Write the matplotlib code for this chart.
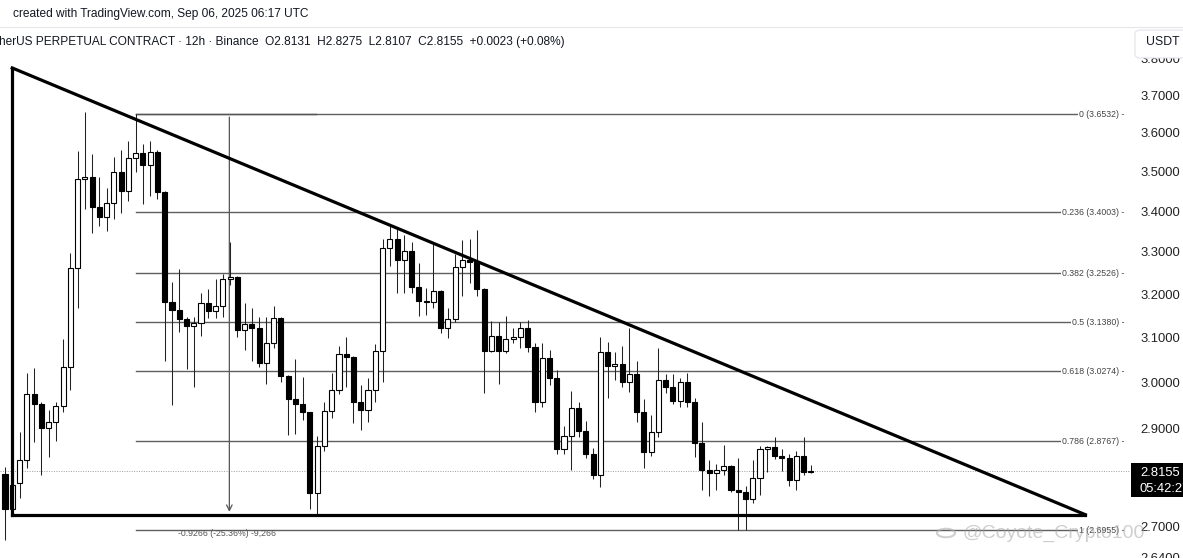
import numpy as np
import matplotlib
matplotlib.use('Agg')
import matplotlib.pyplot as plt
import matplotlib.transforms as mtransforms
from matplotlib.patches import Rectangle, FancyBboxPatch, Circle

plt.rcParams['font.family'] = ['Liberation Sans', 'DejaVu Sans']

# ─── CANDLE DATA (12h) ──────────────────────────────────────────────────────
opens = [
    2.808, 2.738, 2.790, 2.838, 2.977, 2.957, 2.904, 2.918, 2.951, 3.038,
    3.264, 3.485, 3.490, 3.413, 3.390, 3.423, 3.503, 3.454, 3.538, 3.551,
    3.520, 3.553, 3.451, 3.184, 3.166, 3.145, 3.130, 3.137, 3.183, 3.163,
    3.175, 3.238, 3.243, 3.120, 3.135, 3.125, 3.047, 3.091, 3.148, 3.018,
    2.966, 2.957, 2.938, 2.770, 2.866, 2.942, 2.987, 3.066, 3.060, 2.960,
    2.944, 2.987, 3.073, 3.313, 3.335, 3.284, 3.306, 3.220, 3.188, 3.184,
    3.211, 3.125, 3.145, 3.267, 3.284, 3.279, 3.216, 3.073, 3.107, 3.073,
    3.100, 3.105, 3.125, 3.082, 2.960, 3.057, 3.013, 2.860, 2.888, 2.948,
    2.898, 2.850, 2.806, 3.070, 3.040, 3.045, 3.004, 3.022, 2.938, 2.855,
    2.896, 3.009, 2.994, 2.962, 3.004, 2.960, 2.873, 2.818, 2.810, 2.818,
    2.826, 2.777, 2.773, 2.758, 2.800, 2.860, 2.864, 2.845, 2.841, 2.796,
    2.845, 2.8131,
]
highs = [
    2.823, 2.790, 2.896, 3.024, 3.036, 2.960, 2.944, 2.960, 3.100, 3.300,
    3.556, 3.660, 3.550, 3.490, 3.461, 3.540, 3.558, 3.582, 3.653, 3.575,
    3.582, 3.560, 3.455, 3.233, 3.262, 3.150, 3.150, 3.207, 3.216, 3.238,
    3.250, 3.327, 3.245, 3.183, 3.170, 3.150, 3.150, 3.175, 3.150, 3.020,
    3.055, 3.015, 2.940, 2.888, 2.960, 3.024, 3.084, 3.105, 3.062, 2.998,
    3.013, 3.089, 3.335, 3.370, 3.365, 3.345, 3.327, 3.277, 3.218, 3.322,
    3.213, 3.172, 3.298, 3.332, 3.335, 3.356, 3.218, 3.140, 3.138, 3.152,
    3.125, 3.138, 3.143, 3.090, 3.090, 3.075, 3.030, 2.909, 2.985, 2.960,
    2.919, 2.863, 3.105, 3.093, 3.070, 3.084, 3.125, 3.050, 2.968, 2.932,
    3.080, 3.022, 3.022, 3.013, 3.024, 2.970, 2.917, 2.837, 2.830, 2.869,
    2.828, 2.841, 2.785, 2.837, 2.866, 2.866, 2.886, 2.860, 2.850, 2.856,
    2.886, 2.8275,
]
lows = [
    2.676, 2.736, 2.760, 2.822, 2.876, 2.806, 2.843, 2.878, 2.940, 2.987,
    3.171, 3.408, 3.349, 3.366, 3.354, 3.383, 3.400, 3.428, 3.503, 3.421,
    3.441, 3.433, 3.050, 2.953, 3.116, 3.033, 2.994, 3.107, 3.147, 3.147,
    3.150, 3.225, 3.105, 3.075, 3.050, 3.038, 3.000, 3.080, 3.004, 2.890,
    2.892, 2.922, 2.738, 2.7266, 2.857, 2.927, 2.977, 2.994, 2.915, 2.900,
    2.918, 2.960, 3.004, 3.270, 3.207, 3.207, 3.207, 3.152, 3.156, 3.172,
    3.113, 3.103, 3.138, 3.200, 3.230, 3.198, 2.980, 3.070, 3.000, 3.068,
    3.090, 3.080, 3.070, 2.938, 2.950, 2.998, 2.850, 2.850, 2.817, 2.886,
    2.842, 2.798, 2.783, 2.970, 3.008, 2.994, 2.983, 2.917, 2.822, 2.845,
    2.885, 2.980, 2.957, 2.950, 2.950, 2.844, 2.777, 2.765, 2.777, 2.806,
    2.773, 2.696, 2.6955, 2.750, 2.767, 2.812, 2.840, 2.814, 2.784, 2.777,
    2.806, 2.8107,
]
closes = [
    2.738, 2.787, 2.838, 2.977, 2.957, 2.904, 2.918, 2.951, 3.038, 3.264,
    3.485, 3.490, 3.413, 3.390, 3.423, 3.503, 3.454, 3.538, 3.551, 3.520,
    3.553, 3.451, 3.184, 3.166, 3.145, 3.130, 3.137, 3.183, 3.163, 3.175,
    3.238, 3.243, 3.120, 3.135, 3.125, 3.047, 3.091, 3.148, 3.018, 2.966,
    2.957, 2.938, 2.770, 2.866, 2.942, 2.987, 3.066, 3.060, 2.960, 2.944,
    2.987, 3.073, 3.313, 3.335, 3.284, 3.306, 3.220, 3.188, 3.184, 3.211,
    3.125, 3.145, 3.267, 3.284, 3.279, 3.216, 3.073, 3.107, 3.073, 3.100,
    3.105, 3.125, 3.082, 2.960, 3.057, 3.013, 2.860, 2.888, 2.948, 2.898,
    2.850, 2.806, 3.070, 3.040, 3.045, 3.004, 3.022, 2.938, 2.855, 2.896,
    3.009, 2.994, 2.962, 3.004, 2.960, 2.873, 2.818, 2.810, 2.818, 2.826,
    2.777, 2.773, 2.758, 2.800, 2.860, 2.864, 2.845, 2.841, 2.796, 2.845,
    2.8131, 2.8155,
]

# Fibonacci retracement levels (log)
fib_levels = ['0', '0.236', '0.382', '0.5', '0.618', '0.786', '1']
fib_prices = [3.6532, 3.4003, 3.2526, 3.1380, 3.0274, 2.8767, 2.6955]

price_ticks = [3.8, 3.7, 3.6, 3.5, 3.4, 3.3, 3.2, 3.1, 3.0, 2.9, 2.7, 2.64]
last_price = 2.8155

# drawings (bar index / price)
tri_left, tri_right = 1, 148.8
tri_top, tri_bottom = 3.779, 2.7266
fib_start, fib_end = 18, 148.1
meas_start, meas_end, meas_x = 18, 42.8, 30.9
meas_hi, meas_lo = 3.6532, 2.7266

# ─── FIGURE ─────────────────────────────────────────────────────────────────
W, H = 1183, 558
fig = plt.figure(figsize=(W / 100, H / 100), dpi=100)
fig.patch.set_facecolor('white')

def fx(px):
    return px / W

def fy(py):
    return 1 - py / H

ax = fig.add_axes([0, 0, fx(1130), 1 - 28 / H])
ax.set_yscale('log')
ax.set_ylim(2.6416, 3.891)
ax.set_xlim(-0.69, 154.96)
ax.set_xticks([])
ax.set_yticks([])
ax.minorticks_off()
for s in ax.spines.values():
    s.set_visible(False)

x = np.arange(len(opens))
o = np.array(opens)
c = np.array(closes)
up = c >= o

# wicks
ax.vlines(x, lows, highs, color='#222222', lw=0.75, zorder=3)
# bodies
bot = np.minimum(o, c)
hgt = np.maximum(np.abs(c - o), 0.0008)
ax.bar(x[up], hgt[up], bottom=bot[up], width=0.7, color='white',
       edgecolor='black', lw=0.8, zorder=4)
ax.bar(x[~up], hgt[~up], bottom=bot[~up], width=0.7, color='black',
       edgecolor='black', lw=0.8, zorder=4)

# current price dotted line
ax.axhline(last_price, color='#9e9e9e', lw=0.7, ls=(0, (1, 1.5)), zorder=2)

# fib retracement lines
for lvl, p in zip(fib_levels, fib_prices):
    ax.plot([fib_start, fib_end], [p, p], color='#5f5f5f', lw=1.0, zorder=2)
    ax.text(1124 / 1130, p, f'{lvl} ({p:.4f}) -', transform=ax.get_yaxis_transform(),
            ha='right', va='center', fontsize=6.3, color='#444444', zorder=6,
            bbox=dict(boxstyle='square,pad=0.1', fc='white', ec='none'))

# price range measurement
ax.plot([meas_start, meas_end], [meas_hi, meas_hi], color='#555555', lw=1.0, zorder=2)
ax.annotate('', xy=(meas_x, meas_lo), xytext=(meas_x, meas_hi),
            arrowprops=dict(arrowstyle='->', color='#555555', lw=0.9,
                            mutation_scale=10), zorder=2)
ax.text(meas_x - 0.3, 2.690, '-0.9266 (-25.36%) -9,266', ha='center', va='center',
        fontsize=6.3, color='#555555', zorder=6)

# descending triangle
ax.plot([tri_left, tri_left], [tri_bottom, tri_top], color='black', lw=2.3, zorder=5)
ax.plot([tri_left, tri_right], [tri_top, tri_bottom], color='black', lw=2.3, zorder=5)
ax.plot([tri_left, tri_right], [tri_bottom, tri_bottom], color='black', lw=2.3, zorder=5)

# ─── PRICE AXIS ─────────────────────────────────────────────────────────────
tr = mtransforms.blended_transform_factory(fig.transFigure, ax.transData)
for t in price_ticks:
    ax.text(fx(1140), t, f'{t:.4f}', transform=tr, ha='left', va='center',
            fontsize=9.4, color='#222222', clip_on=False)

fig.add_artist(Rectangle((fx(1131), fy(497)), fx(60), 34 / H, transform=fig.transFigure,
                         fc='black', ec='none', zorder=10))
fig.text(fx(1140), fy(473), f'{last_price:.4f}', ha='left', va='center',
         fontsize=9.4, color='white', zorder=11)
fig.text(fx(1140), fy(489), '05:42:27', ha='left', va='center',
         fontsize=9.4, color='white', zorder=11)

fig.add_artist(FancyBboxPatch((fx(1135), fy(58)), fx(60), 28 / H,
                              boxstyle='round,pad=0,rounding_size=0.006',
                              transform=fig.transFigure, fc='white', ec='#e0e3eb',
                              lw=0.8, zorder=10))
fig.text(fx(1146), fy(42), 'USDT', ha='left', va='center', fontsize=8.8,
         color='#131722', zorder=11)

# ─── HEADER ─────────────────────────────────────────────────────────────────
fig.add_artist(plt.Line2D([0, 1], [fy(27), fy(27)], transform=fig.transFigure,
                          color='#e6e6e6', lw=0.8))
fig.text(fx(13), fy(14), 'created with TradingView.com, Sep 06, 2025 06:17 UTC',
         ha='left', va='center', fontsize=8.6, color='#131722')
fig.text(fx(-1), fy(42),
         'herUS PERPETUAL CONTRACT · 12h · Binance  O2.8131  H2.8275  L2.8107  C2.8155  +0.0023 (+0.08%)',
         ha='left', va='center', fontsize=8.6, color='#131722')

# watermark
fig.add_artist(Circle((fx(946), fy(533)), 9 / W, transform=fig.transFigure,
                      fc='none', ec='#b0b0b0', lw=1.5, alpha=0.6, zorder=12))
fig.text(fx(962), fy(533), '@Coyote_Crypto100', ha='left', va='center',
         fontsize=14, color='#a0a0a0', alpha=0.5, zorder=12)

fig.savefig('out.png', dpi=100, facecolor='white')
